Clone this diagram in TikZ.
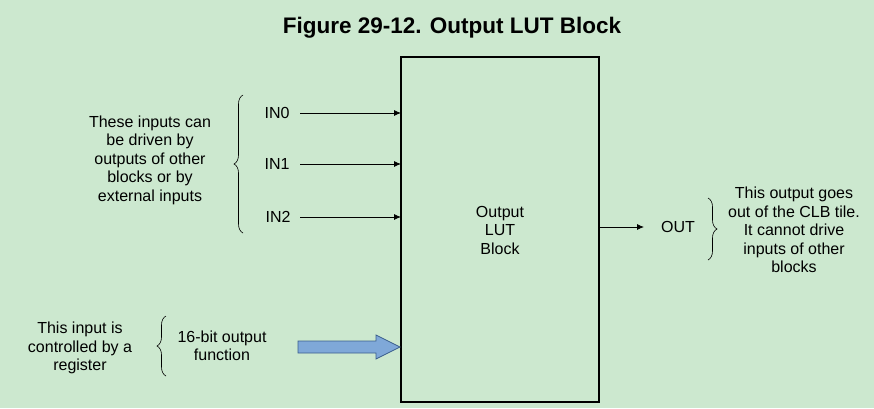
\documentclass[tikz,border=0pt]{standalone}
\usepackage{fontspec}
\setmainfont{Liberation Sans}
\usetikzlibrary{decorations.pathreplacing,arrows.meta}
\definecolor{bg}{HTML}{CCE8CF}
\definecolor{blu}{HTML}{7FA8D8}
\definecolor{bluline}{HTML}{3A5E8C}
\begin{document}
\begin{tikzpicture}[x=1pt,y=-1pt,
  txt/.style={font=\fontsize{16}{18.5}\selectfont, align=center, inner sep=0},
  arr/.style={-{Latex[length=7pt,width=6pt]}, line width=0.8pt},
  br/.style={decorate, decoration={brace, amplitude=9pt}, line width=0.6pt}]
\fill[bg] (0,0) rectangle (874,408);
\useasboundingbox (0,0) rectangle (874,408);
\node[txt, font=\bfseries\fontsize{22.5}{25}\selectfont] (title) at (452,28) {Figure 29-12. Output LUT Block};
\draw[line width=1.2pt] (401,57) rectangle (599,402);
\node[txt] (lut) at (500,230) {Output\\LUT\\Block};
\coordinate (b0) at (401,113);
\coordinate (b1) at (401,164);
\coordinate (b2) at (401,217);
\node[txt] (in0) at (277,113) {IN0};
\node[txt] (in1) at (277,164) {IN1};
\node[txt] (in2) at (278,217) {IN2};
\draw[arr] (300,113) -- (b0);
\draw[arr] (300,164) -- (b1);
\draw[arr] (300,217) -- (b2);
\draw[br] (243,233) -- (243,95);
\node[txt] (ltxt) at (150,160) {These inputs can\\be driven by\\outputs of other\\blocks or by\\external inputs};
\coordinate (o0) at (599,227);
\coordinate (o1) at (644,227);
\draw[arr] (o0) -- (o1);
\node[txt] (out) at (678,227) {OUT};
\draw[br] (708,198) -- (708,260);
\node[txt] (rtxt) at (794,230) {This output goes\\out of the CLB tile.\\It cannot drive\\inputs of other\\blocks};
\filldraw[fill=blu, draw=bluline, line width=0.8pt] (298,341) -- (376,341) -- (376,335) -- (400,347) -- (376,359) -- (376,353) -- (298,353) -- cycle;
\node[txt] (fn) at (222,346) {16-bit output\\function};
\draw[br] (166,376) -- (166,316);
\node[txt] (reg) at (80,348) {This input is\\controlled by a\\register};
\end{tikzpicture}
\end{document}
